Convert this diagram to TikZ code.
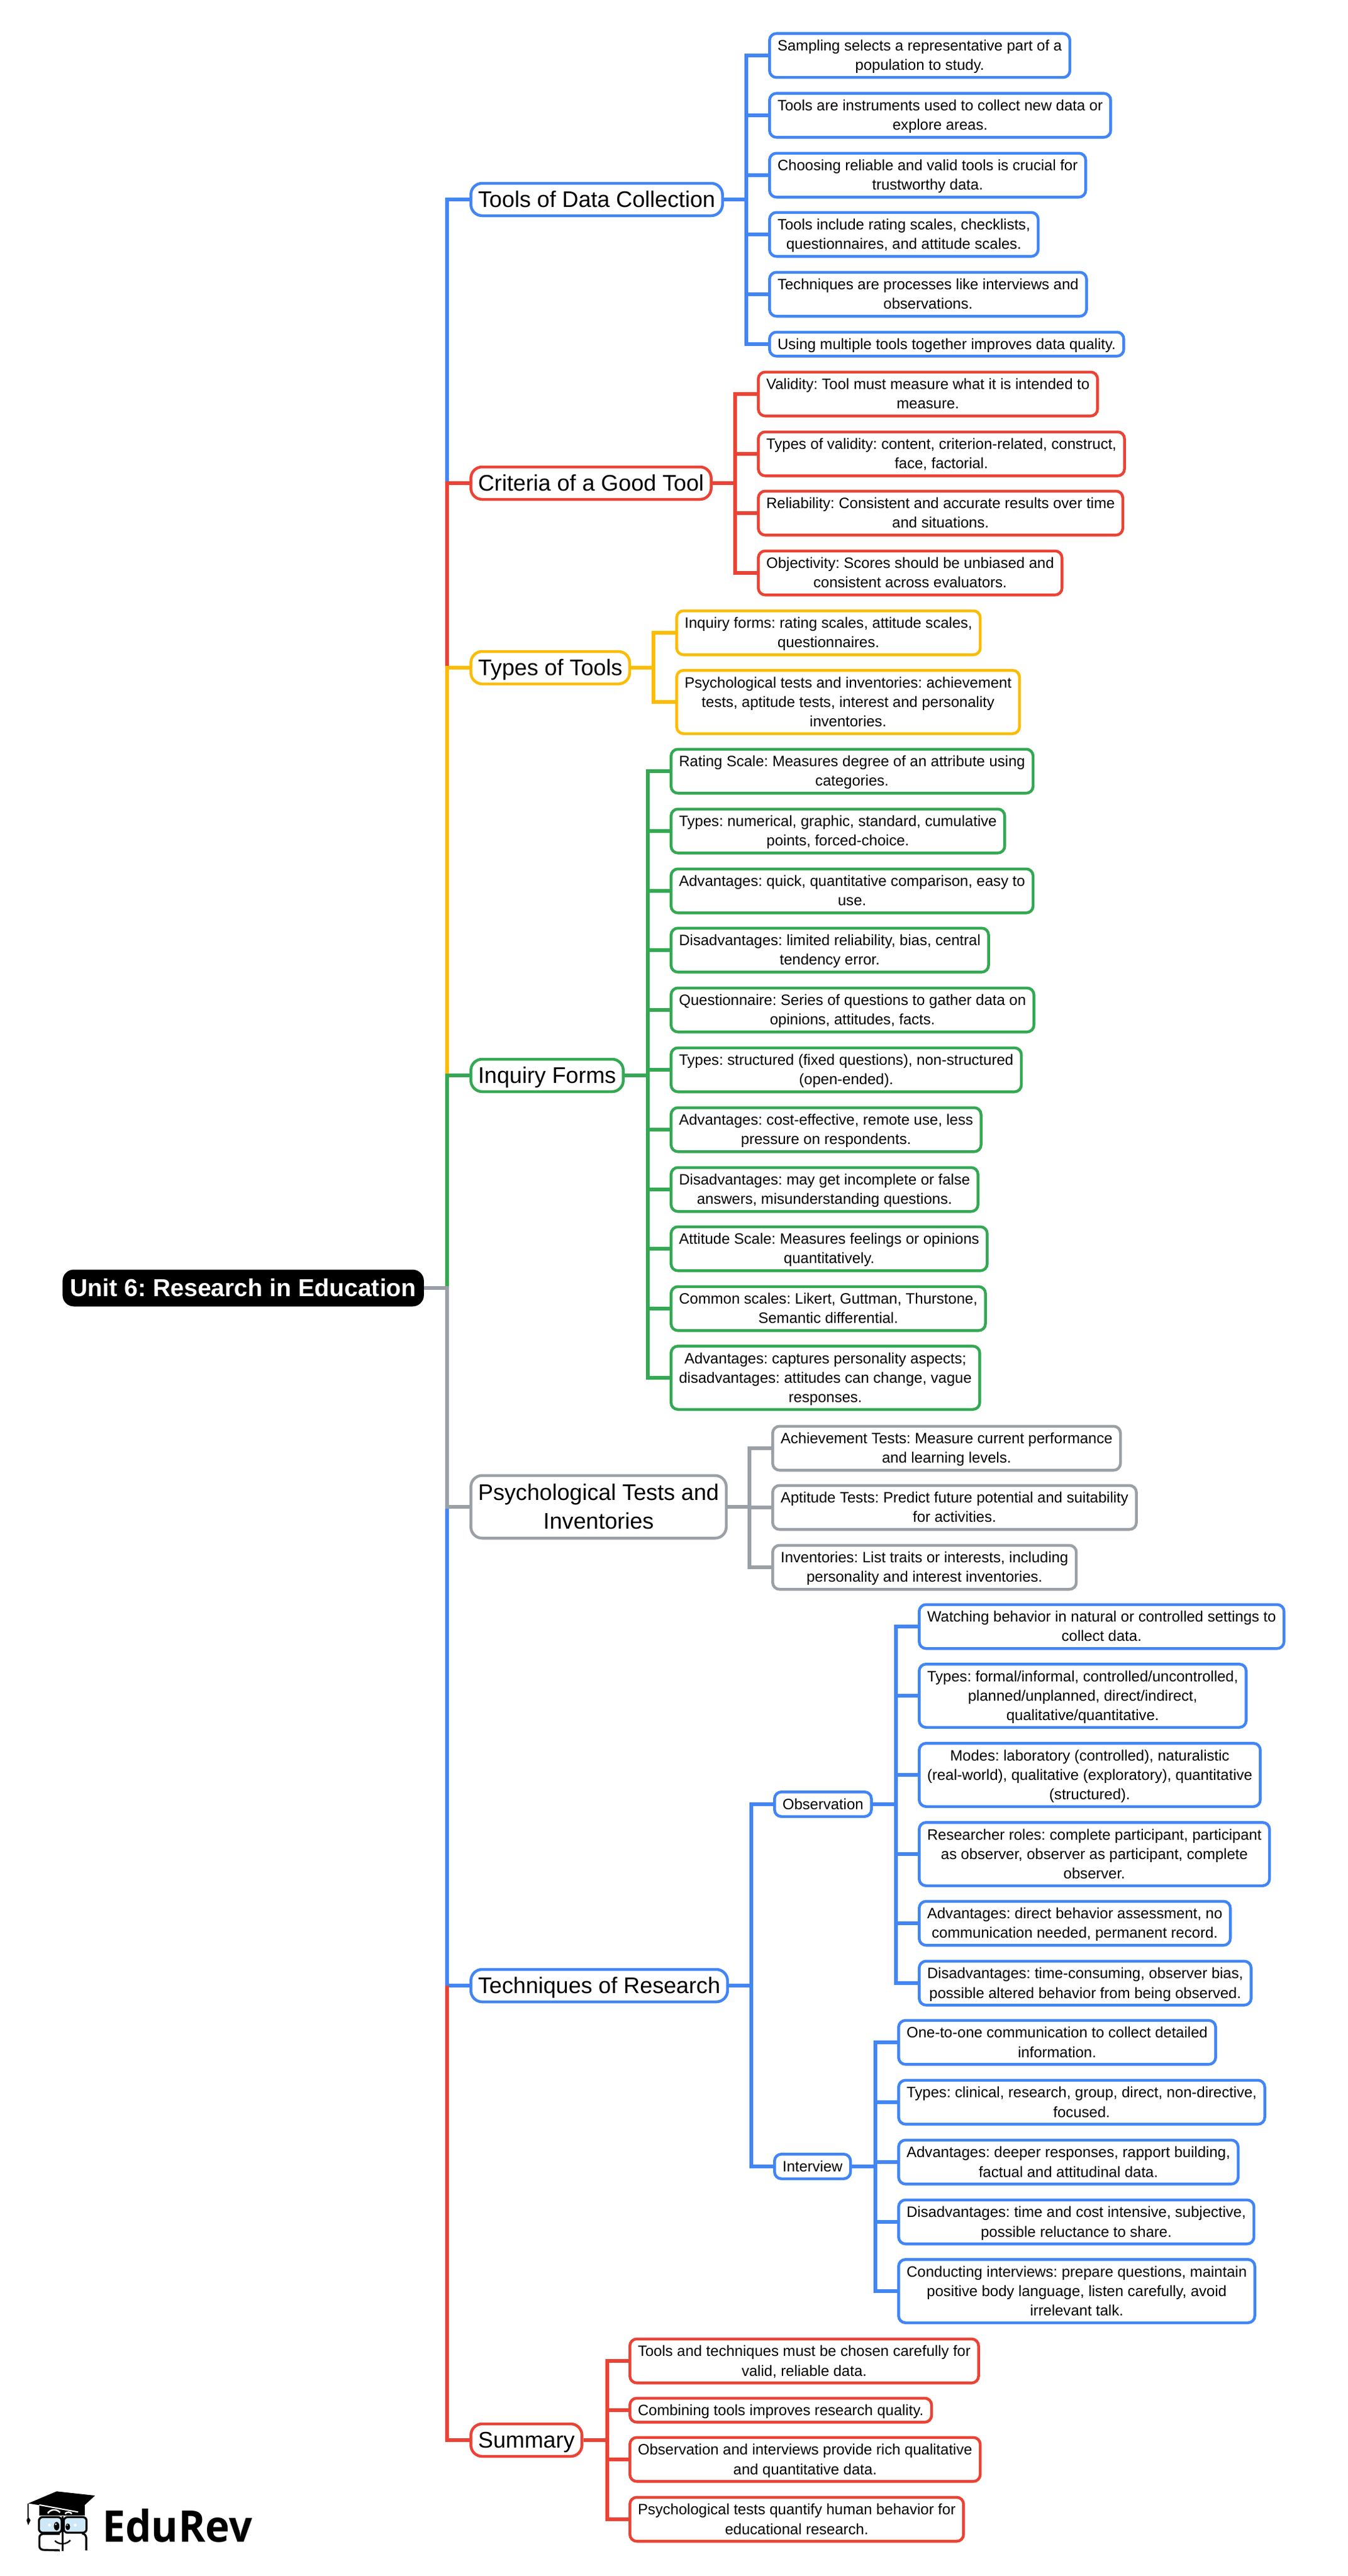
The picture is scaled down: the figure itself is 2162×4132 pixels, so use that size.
\documentclass[tikz,border=0pt]{standalone}
\usepackage{fontspec}
\setmainfont{Liberation Sans}
\newfontfamily\logofont{Open Sans}
\definecolor{mapblue}{HTML}{4285F4}
\definecolor{mapred}{HTML}{EA4335}
\definecolor{mapyellow}{HTML}{FBBC04}
\definecolor{mapgreen}{HTML}{34A853}
\definecolor{mapgray}{HTML}{9AA0A6}
\definecolor{glass}{HTML}{CFE8F7}
\begin{document}
\frenchspacing
\begin{tikzpicture}[x=0.5pt,y=-0.5pt,
    root/.style={fill=black,text=white,rounded corners=9pt,anchor=west,inner xsep=6pt,inner ysep=0pt,minimum height=29.5pt,text height=13.5pt,text depth=0pt,font=\fontsize{19.6}{24}\selectfont\bfseries},
    branch/.style={draw=#1,fill=white,line width=2.25pt,rounded corners=9pt,anchor=west,xshift=-1pt,align=center,inner xsep=5.8pt,inner ysep=0pt,minimum height=26pt,text height=12.6pt,text depth=0pt,font=\fontsize{18.1}{23.3}\selectfont},
    leaf/.style={draw=#1,fill=white,line width=2.25pt,rounded corners=5.5pt,anchor=west,xshift=-1pt,align=center,inner xsep=6.4pt,inner ysep=0pt,minimum height=35.25pt,text height=23.96pt,text depth=0pt,font=\fontsize{12.03}{15.65}\selectfont},
    one/.style={minimum height=19.25pt,text height=8.32pt},
    three/.style={minimum height=50.75pt,text height=39.62pt},
    link/.style={draw=#1,line width=3pt}]

    \useasboundingbox (0,0) rectangle (2162,4132);

    % centre topic
    \node[root] (unit) at (100,2066) {Unit 6: Research in Education};

    % main branches
    \node[branch=mapblue] (tools) at (755,320) {Tools of Data Collection};
    \node[branch=mapred] (criteria) at (755,775) {Criteria of a Good Tool};
    \node[branch=mapyellow] (types) at (755,1071) {Types of Tools};
    \node[branch=mapgreen] (inquiry) at (755,1725) {Inquiry Forms};
    \node[branch=mapgray,minimum height=50.25pt,text height=35.9pt] (psych) at (755,2417) {Psychological Tests and\\Inventories};
    \node[branch=mapblue] (tech) at (755,3185) {Techniques of Research};
    \node[branch=mapred] (summary) at (755,3914) {Summary};

    % points on the trunk
    \coordinate (jtools) at (717,320);
    \coordinate (jcriteria) at (717,775);
    \coordinate (jtypes) at (717,1071);
    \coordinate (jinquiry) at (717,1725);
    \coordinate (junit) at (717,2066);
    \coordinate (jpsych) at (717,2417);
    \coordinate (jtech) at (717,3185);
    \coordinate (jsummary) at (717,3914);

    % trunk, one colour per stretch
    \draw[link=mapblue] (tools.west) -- (jtools) -- (jcriteria);
    \draw[link=mapred] (criteria.west) -- (jcriteria) -- (jtypes);
    \draw[link=mapyellow] (types.west) -- (jtypes) -- (jinquiry);
    \draw[link=mapgreen] (inquiry.west) -- (jinquiry) -- (junit);
    \draw[link=mapblue] (tech.west) -- (jtech) -- (jpsych);
    \draw[link=mapred] (summary.west) -- (jsummary) -- (jtech);
    \draw[link=mapgray] (psych.west) -- (jpsych) -- (junit) -- (unit.east);

    % tools of data collection
    \coordinate (bustools) at (1197,320);
    \node[leaf=mapblue] (tools1) at (1234,89) {Sampling selects a representative part of a\\population to study.};
    \node[leaf=mapblue] (tools2) at (1234,185) {Tools are instruments used to collect new data or\\explore areas.};
    \node[leaf=mapblue] (tools3) at (1234,281) {Choosing reliable and valid tools is crucial for\\trustworthy data.};
    \node[leaf=mapblue] (tools4) at (1234,376) {Tools include rating scales, checklists,\\questionnaires, and attitude scales.};
    \node[leaf=mapblue] (tools5) at (1234,472) {Techniques are processes like interviews and\\observations.};
    \node[leaf=mapblue,one] (tools6) at (1234,552) {Using multiple tools together improves data quality.};
    \draw[link=mapblue] (tools.east) -- (bustools);
    \draw[link=mapblue] (bustools) |- (tools1.west);
    \draw[link=mapblue] (bustools) |- (tools2.west);
    \draw[link=mapblue] (bustools) |- (tools3.west);
    \draw[link=mapblue] (bustools) |- (tools4.west);
    \draw[link=mapblue] (bustools) |- (tools5.west);
    \draw[link=mapblue] (bustools) |- (tools6.west);

    % criteria of a good tool
    \coordinate (buscriteria) at (1179,775);
    \node[leaf=mapred] (criteria1) at (1216,632) {Validity: Tool must measure what it is intended to\\measure.};
    \node[leaf=mapred] (criteria2) at (1216,728) {Types of validity: content, criterion-related, construct,\\face, factorial.};
    \node[leaf=mapred] (criteria3) at (1216,823) {Reliability: Consistent and accurate results over time\\and situations.};
    \node[leaf=mapred] (criteria4) at (1216,919) {Objectivity: Scores should be unbiased and\\consistent across evaluators.};
    \draw[link=mapred] (criteria.east) -- (buscriteria);
    \draw[link=mapred] (buscriteria) |- (criteria1.west);
    \draw[link=mapred] (buscriteria) |- (criteria2.west);
    \draw[link=mapred] (buscriteria) |- (criteria3.west);
    \draw[link=mapred] (buscriteria) |- (criteria4.west);

    % types of tools
    \coordinate (bustypes) at (1048,1071);
    \node[leaf=mapyellow] (types1) at (1085,1015) {Inquiry forms: rating scales, attitude scales,\\questionnaires.};
    \node[leaf=mapyellow,three] (types2) at (1085,1126) {Psychological tests and inventories: achievement\\tests, aptitude tests, interest and personality\\inventories.};
    \draw[link=mapyellow] (types.east) -- (bustypes);
    \draw[link=mapyellow] (bustypes) |- (types1.west);
    \draw[link=mapyellow] (bustypes) |- (types2.west);

    % inquiry forms
    \coordinate (businquiry) at (1039,1725);
    \node[leaf=mapgreen] (inquiry1) at (1076,1237) {Rating Scale: Measures degree of an attribute using\\categories.};
    \node[leaf=mapgreen] (inquiry2) at (1076,1333) {Types: numerical, graphic, standard, cumulative\\points, forced-choice.};
    \node[leaf=mapgreen] (inquiry3) at (1076,1429) {Advantages: quick, quantitative comparison, easy to\\use.};
    \node[leaf=mapgreen] (inquiry4) at (1076,1524) {Disadvantages: limited reliability, bias, central\\tendency error.};
    \node[leaf=mapgreen] (inquiry5) at (1076,1620) {Questionnaire: Series of questions to gather data on\\opinions, attitudes, facts.};
    \node[leaf=mapgreen] (inquiry6) at (1076,1716) {Types: structured (fixed questions), non-structured\\(open-ended).};
    \node[leaf=mapgreen] (inquiry7) at (1076,1812) {Advantages: cost-effective, remote use, less\\pressure on respondents.};
    \node[leaf=mapgreen] (inquiry8) at (1076,1908) {Disadvantages: may get incomplete or false\\answers, misunderstanding questions.};
    \node[leaf=mapgreen] (inquiry9) at (1076,2003) {Attitude Scale: Measures feelings or opinions\\quantitatively.};
    \node[leaf=mapgreen] (inquiry10) at (1076,2099) {Common scales: Likert, Guttman, Thurstone,\\Semantic differential.};
    \node[leaf=mapgreen,three] (inquiry11) at (1076,2210) {Advantages: captures personality aspects;\\disadvantages: attitudes can change, vague\\responses.};
    \draw[link=mapgreen] (inquiry.east) -- (businquiry);
    \draw[link=mapgreen] (businquiry) |- (inquiry1.west);
    \draw[link=mapgreen] (businquiry) |- (inquiry2.west);
    \draw[link=mapgreen] (businquiry) |- (inquiry3.west);
    \draw[link=mapgreen] (businquiry) |- (inquiry4.west);
    \draw[link=mapgreen] (businquiry) |- (inquiry5.west);
    \draw[link=mapgreen] (businquiry) |- (inquiry6.west);
    \draw[link=mapgreen] (businquiry) |- (inquiry7.west);
    \draw[link=mapgreen] (businquiry) |- (inquiry8.west);
    \draw[link=mapgreen] (businquiry) |- (inquiry9.west);
    \draw[link=mapgreen] (businquiry) |- (inquiry10.west);
    \draw[link=mapgreen] (businquiry) |- (inquiry11.west);

    % psychological tests
    \coordinate (buspsych) at (1202,2417);
    \node[leaf=mapgray] (psych1) at (1239,2323) {Achievement Tests: Measure current performance\\and learning levels.};
    \node[leaf=mapgray] (psych2) at (1239,2418) {Aptitude Tests: Predict future potential and suitability\\for activities.};
    \node[leaf=mapgray] (psych3) at (1239,2514) {Inventories: List traits or interests, including\\personality and interest inventories.};
    \draw[link=mapgray] (psych.east) -- (buspsych);
    \draw[link=mapgray] (buspsych) |- (psych1.west);
    \draw[link=mapgray] (buspsych) |- (psych2.west);
    \draw[link=mapgray] (buspsych) |- (psych3.west);

    % techniques of research
    \coordinate (bustech) at (1205,3185);
    \node[leaf=mapblue,one,minimum height=19.75pt] (observe) at (1242,2894) {Observation};
    \node[leaf=mapblue,one,minimum height=19.75pt] (interview) at (1242,3475) {Interview};
    \draw[link=mapblue] (tech.east) -- (bustech);
    \draw[link=mapblue] (bustech) |- (observe.west);
    \draw[link=mapblue] (bustech) |- (interview.west);

    % observation
    \coordinate (busobserve) at (1437,2894);
    \node[leaf=mapblue] (observe1) at (1474,2609) {Watching behavior in natural or controlled settings to\\collect data.};
    \node[leaf=mapblue,three] (observe2) at (1474,2720) {Types: formal/informal, controlled/uncontrolled,\\planned/unplanned, direct/indirect,\\qualitative/quantitative.};
    \node[leaf=mapblue,three] (observe3) at (1474,2847) {Modes: laboratory (controlled), naturalistic\\(real-world), qualitative (exploratory), quantitative\\(structured).};
    \node[leaf=mapblue,three] (observe4) at (1474,2974) {Researcher roles: complete participant, participant\\as observer, observer as participant, complete\\observer.};
    \node[leaf=mapblue] (observe5) at (1474,3085) {Advantages: direct behavior assessment, no\\communication needed, permanent record.};
    \node[leaf=mapblue] (observe6) at (1474,3181) {Disadvantages: time-consuming, observer bias,\\possible altered behavior from being observed.};
    \draw[link=mapblue] (observe.east) -- (busobserve);
    \draw[link=mapblue] (busobserve) |- (observe1.west);
    \draw[link=mapblue] (busobserve) |- (observe2.west);
    \draw[link=mapblue] (busobserve) |- (observe3.west);
    \draw[link=mapblue] (busobserve) |- (observe4.west);
    \draw[link=mapblue] (busobserve) |- (observe5.west);
    \draw[link=mapblue] (busobserve) |- (observe6.west);

    % interview
    \coordinate (businterview) at (1404,3475);
    \node[leaf=mapblue] (interview1) at (1441,3276) {One-to-one communication to collect detailed\\information.};
    \node[leaf=mapblue] (interview2) at (1441,3372) {Types: clinical, research, group, direct, non-directive,\\focused.};
    \node[leaf=mapblue] (interview3) at (1441,3468) {Advantages: deeper responses, rapport building,\\factual and attitudinal data.};
    \node[leaf=mapblue] (interview4) at (1441,3564) {Disadvantages: time and cost intensive, subjective,\\possible reluctance to share.};
    \node[leaf=mapblue,three] (interview5) at (1441,3675) {Conducting interviews: prepare questions, maintain\\positive body language, listen carefully, avoid\\irrelevant talk.};
    \draw[link=mapblue] (interview.east) -- (businterview);
    \draw[link=mapblue] (businterview) |- (interview1.west);
    \draw[link=mapblue] (businterview) |- (interview2.west);
    \draw[link=mapblue] (businterview) |- (interview3.west);
    \draw[link=mapblue] (businterview) |- (interview4.west);
    \draw[link=mapblue] (businterview) |- (interview5.west);

    % summary
    \coordinate (bussummary) at (974,3914);
    \node[leaf=mapred] (summary1) at (1010,3787) {Tools and techniques must be chosen carefully for\\valid, reliable data.};
    \node[leaf=mapred,one] (summary2) at (1010,3866) {Combining tools improves research quality.};
    \node[leaf=mapred] (summary3) at (1010,3945) {Observation and interviews provide rich qualitative\\and quantitative data.};
    \node[leaf=mapred] (summary4) at (1010,4041) {Psychological tests quantify human behavior for\\educational research.};
    \draw[link=mapred] (summary.east) -- (bussummary);
    \draw[link=mapred] (bussummary) |- (summary1.west);
    \draw[link=mapred] (bussummary) |- (summary2.west);
    \draw[link=mapred] (bussummary) |- (summary3.west);
    \draw[link=mapred] (bussummary) |- (summary4.west);

    % logo
    \begin{scope}[shift={(30,3980)},x=0.169pt,y=-0.169pt]
        \fill (98,110) -- (315,110) -- (315,162) -- (98,162) -- cycle;
        \fill (180,48) -- (362,68) -- (282,142) -- (45,105) -- cycle;
        \draw[white,line width=1pt] (98,112) -- (282,146);
        \draw[white,line width=1.2pt] (138,152) .. controls (150,132) and (180,130) .. (196,148);
        \draw[white,line width=1.2pt] (220,154) .. controls (228,144) and (244,144) .. (252,154);
        \draw[line width=0.8pt] (45,105) -- (45,170);
        \fill (45,168) -- (56,185) -- (45,208) -- (37,185) -- cycle;
        \draw[fill=glass,line width=1.6pt,rounded corners=3pt] (96,170) rectangle (204,244);
        \draw[fill=glass,line width=1.6pt,rounded corners=3pt] (214,170) rectangle (322,244);
        \draw[line width=1.6pt] (209,165) -- (209,332);
        \draw[line width=1.6pt,rounded corners=3pt] (195,250) -- (98,250) -- (98,325) -- (195,328);
        \draw[line width=1.6pt,rounded corners=3pt] (300,248) -- (320,250) -- (320,328);
        \fill (180,213) ellipse [x radius=13,y radius=20];
        \fill (233,216) ellipse [x radius=11,y radius=16];
        \fill[white] (176,204) circle (4);
        \fill[white] (230,208) circle (3);
        \fill[white] (146,208) circle (7);
        \fill[white] (268,208) circle (7);
        \draw[line width=1.2pt] (172,282) .. controls (190,302) and (225,302) .. (245,280);
    \end{scope}
    \node[anchor=base west,inner sep=0pt,xscale=0.94,font=\logofont\fontsize{35}{35}\selectfont\bfseries] (edurev) at (164,4077) {EduRev};

\end{tikzpicture}
\end{document}
